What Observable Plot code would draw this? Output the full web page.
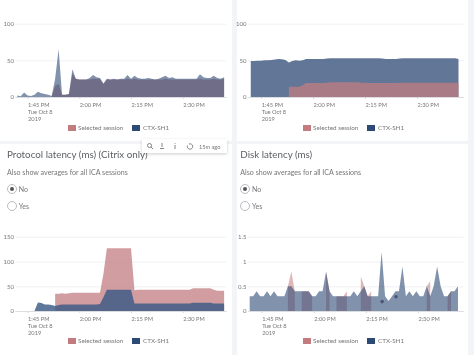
<!DOCTYPE html>
<html><head><meta charset="utf-8">
<script src="https://cdn.jsdelivr.net/npm/d3@7"></script>
<script src="https://cdn.jsdelivr.net/npm/@observablehq/plot@0.6"></script>
<style>
html,body{margin:0;padding:0;background:#fff}
body{width:474px;height:355px;position:relative;overflow:hidden;font-family:Lato,"Open Sans",sans-serif;color:#666;filter:blur(.35px)}
.band{position:absolute;background:#f2f4f7}
.abs{position:absolute;white-space:nowrap}
.title{font-size:9.8px;color:#5c5f63;line-height:14px}
.sub{font-size:7.1px;color:#777;line-height:10px}
.opt{font-size:7px;color:#777;line-height:10px}
.radio{position:absolute;width:8px;height:8px;border:1px solid #b9bdc2;border-radius:50%;background:#fff}
.radio.on::after{content:"";position:absolute;left:2px;top:2px;width:4px;height:4px;border-radius:50%;background:#555}
.sw{position:absolute;width:8px;height:6px}
.lg{font-size:6.3px;color:#777;line-height:8px}
.chart{position:absolute}
.chart svg{display:block;background:transparent;overflow:visible}
.tool{position:absolute;left:142px;top:139px;width:85px;height:14px;background:#fff;box-shadow:0 1px 3px rgba(0,0,0,.2);font-size:5.6px;color:#777}
</style></head><body>
<script>
const minuteLabels = ["1:45 PM\nTue Oct 8\n2019","2:00 PM","2:15 PM","2:30 PM"];
const minuteTicks = [3,18,33,48];
const legendNames = ["Selected session","CTX-SH1"];
const cpuHost = [2,1,6,2,1.5,3,7,5,4,3,1.5,25,65,3,3,4,38,25,24,24,24,26,30,27,26,18,25,24,25,24,25,25,30,25,29,26,25,25,26,25,24,25,27,29,26,27,25,25,25,25,25,25,25,31,27,26,26,29,26,25,27];
const cpuSelected = [null,null,null,null,null,null,null,null,null,null,1.5,15,18,3,3,4,32,25,24,24,24,24,25,25,25,18,24,24,24,24,24,24,25,24,25,24,24,24,24,24,24,24,24,25,24,24,24,24,24,24,24,24,24,25,24,24,24,25,24,24,25];
const memHost = [49,49,49.5,49.5,50,50,50.5,51,52,51.5,50.5,47,49,50,49.5,50,52,52,52,52,52,52,52.5,53,53,53,53,53,53,53,53,53,53,53,53,53,53,53,52.5,52,52,52,52,52.5,53,53,53,53,53,53,53,53,53,53,53,53,53,53,53,53,52];
const memSelected = [null,null,null,null,null,null,null,null,null,null,null,14,14,14,14,16,19,19,19,19,19,19,19.5,20,20,20,20,20,20,20,20,20,19.5,19.5,19,19,19,19,19,19,19,19,19,19.5,19.5,19.5,19.5,19.5,19.5,19.5,19.5,19.5,19.5,19.5,19.5,19.5,19.5,19.5,19.5,19.5,19.5];
const protoHost = [0,0,0,0,0,0,17,16,13,13,12,10,12,13,13,13,13,13,13,13,13,13,13,13,14,28,43,43,43,43,43,43,43,43,15,15,15,15,15,15,15,15,15,15,15,15,15,15,15,15,15,16.5,16.5,16.5,16.5,16.5,16.5,15,15,15,15];
const protoSelected = [null,null,null,null,null,null,null,null,null,null,null,35,35,36,35,36,37,37,37,37,37,37,37,37,37,75,127,127,127,127,127,127,127,127,42,43,43,43,43,43,43,43,43,43,43,43,43,43,43,43,43,46,46,46,46,46,46,43,41,41,41];
const diskHost = [.3,.3,.4,.3,.3,.4,.3,.4,.3,.3,.3,.5,.5,.4,.4,.4,.4,.4,.3,.3,.4,.4,.8,.4,.3,.3,.3,.3,.3,.3,.4,.3,.4,.5,.3,.3,.3,.3,1.2,.3,.2,.3,.4,.4,.9,.3,.4,.3,.4,.3,.3,.5,.3,.5,.9,.5,.3,.3,.4,.4,.5];
const diskSelected = [null,null,null,null,null,null,null,null,null,null,null,.5,.8,.4,null,.4,.4,.4,.3,null,null,null,.8,.4,null,.3,.3,.3,.4,null,null,null,.7,.5,.3,.4,null,null,null,null,null,null,null,null,null,null,null,null,null,null,null,.5,.6,null,null,null,null,.3,.4,null,null];
const diskDots = [[38,.2],[42,.3]];

const pink="#c27c80", navy="#2d4a74";
const at = m => new Date(Date.UTC(2019,9,8,13,42)+m*60000);

function chart(o){
  const host=o.host.map((v,i)=>({t:at(i+o.shift),v:v??NaN}));
  const sel=o.sel.map((v,i)=>({t:at(i+o.shift),v:v??NaN}));
  const hostMark=Plot.areaY(host,{x:"t",y1:0,y2:"v",fill:o.hc||navy,fillOpacity:o.ho});
  const selMark=Plot.areaY(sel,{x:"t",y1:0,y2:"v",fill:pink,fillOpacity:o.so});
  const p=Plot.plot({
    width:o.w,height:o.h,marginLeft:o.ml,marginRight:o.mr,marginTop:o.mt,marginBottom:o.mb,
    style:{fontFamily:"Lato,'Open Sans',sans-serif",color:"#777",background:"transparent"},
    x:{type:"utc",domain:[at(o.x0),at(o.x1)]},
    y:{domain:[0,o.ymax]},
    marks:[
      Plot.ruleY(o.yt,{stroke:"#eceef0",strokeWidth:.8}),
      ...(o.selFirst?[selMark,hostMark]:[hostMark,selMark]),
      ...(o.dots?[Plot.dot(o.dots,{x:d=>at(d[0]+o.shift),y:d=>d[1],r:1.8,fill:"#4a5674"})]:[]),
      Plot.ruleY([0],{stroke:"#d5d8dc",strokeWidth:.8}),
      Plot.axisY({ticks:o.yt,tickSize:0,tickPadding:2,tickFormat:d=>String(d),fill:"#777",label:null,fontSize:6}),
      Plot.axisX({ticks:minuteTicks.map(at),tickSize:2,tickPadding:3,stroke:"#d5d8dc",fill:"#777",label:null,textAnchor:"start",lineHeight:1.2,fontSize:5.7,
        tickFormat:d=>minuteLabels[minuteTicks.findIndex(m=>+at(m)===+d)]})
    ]
  });
  const d=document.createElement("div");d.className="chart";d.style.left=o.l+"px";d.style.top=o.t+"px";d.appendChild(p);
  document.body.appendChild(d);
}
function add(cls,l,t,html,color){
  const e=document.createElement("div");e.className=cls;e.style.left=l+"px";e.style.top=t+"px";
  if(html)e.textContent=html; if(color)e.style.background=color;document.body.appendChild(e);return e;
}
function legend(x,y){
  add("sw",x,y-3,null,pink);add("abs lg",x+10.3,y-4,legendNames[0]);
  add("sw",x+64.5,y-3,null,navy);add("abs lg",x+75.3,y-4,legendNames[1]);
}
function band(l,t,w,h){const e=add("band",l,t);e.style.width=w+"px";e.style.height=h+"px";}
band(232,0,5,355);band(468,0,6,355);band(0,141,474,2.5);

const topCfg={t:0,h:125,mt:5,mb:28,ymax:125.5,yt:[0,50,100]};
chart({...topCfg,l:0,w:232,ml:15.5,mr:5.3,x0:-0.5,x1:60.75,shift:0,host:cpuHost,sel:cpuSelected,ho:.6,so:.7,selFirst:true});
chart({...topCfg,l:237,w:231,ml:11,mr:4.3,x0:-0.8,x1:61.5,shift:0,host:memHost,sel:memSelected,ho:.75,so:.75});
const botCfg={t:225,h:115,mt:5,mb:29,ymax:164};
chart({...botCfg,l:0,w:232,ml:15.5,mr:5.3,x0:-0.5,x1:60.75,shift:0,yt:[0,50,100,150],host:protoHost,sel:protoSelected,hc:"#3a5a85",ho:.82,so:.75,selFirst:true});
chart({...botCfg,l:237,w:231,ml:11,mr:4.3,x0:-0.94,x1:61.2,shift:-0.45,ymax:1.64,yt:[0,.5,1,1.5],host:diskHost,sel:diskSelected,ho:.6,so:.55,dots:diskDots,selFirst:true});

legend(67.7,128);legend(302.7,128);legend(67.7,341);legend(302.7,341);

[7,240.3].forEach((x,i)=>{
  add("abs title",x,147,i?"Disk latency (ms)":"Protocol latency (ms) (Citrix only)");
  add("abs sub",x,167.7,"Also show averages for all ICA sessions");
  add("radio on",x,183.5);add("radio",x,200.5);
  add("abs opt",x+11.7,183.5,"No");add("abs opt",x+11.7,200.5,"Yes");
});
const tool=document.createElement("div");tool.className="tool";
tool.innerHTML=`<svg width="60" height="14" style="position:absolute;left:0;top:0" fill="none" stroke="#777" stroke-width=".9"><circle cx="7.5" cy="6.5" r="2"/><path d="M9 8l2 2"/><path d="M20 4v4M18 9.5h4"/><path d="M33 4v.8M33 6v4"/><path d="M47 5a2.7 2.7 0 1 1-1.5 1.5"/></svg><span style="position:absolute;left:57px;top:3.5px">15m ago</span>`;
document.body.appendChild(tool);
</script>
</body></html>
